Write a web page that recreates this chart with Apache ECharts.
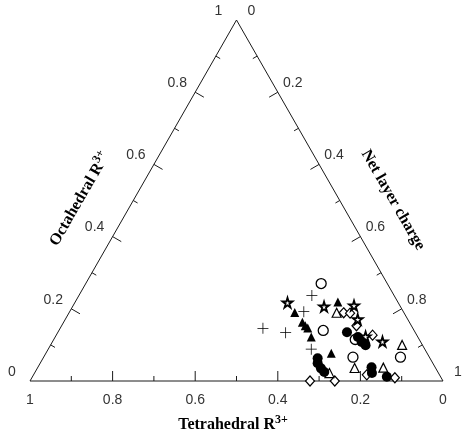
<!DOCTYPE html>
<html>
<head>
<meta charset="utf-8">
<title>Ternary plot</title>
<script src="https://cdn.jsdelivr.net/npm/echarts/dist/echarts.min.js"></script>
<style>
html, body { margin: 0; padding: 0; background: #fff; }
#chart { width: 474px; height: 443px; }
</style>
</head>
<body>
<div id="chart"></div>
<script>
// each sample: tetrahedral R3+ (T) and octahedral R3+ (O); net layer charge = 1 - T - O
var openCircleT = [0.16, 0.22, 0.185, 0.07, 0.155];
var openCircleO = [0.27, 0.14, 0.066, 0.066, 0.115];

var filledCircleT = [0.165, 0.145, 0.143, 0.138, 0.272, 0.279, 0.278, 0.275, 0.154, 0.161, 0.13];
var filledCircleO = [0.135, 0.122, 0.108, 0.099, 0.063, 0.049, 0.035, 0.025, 0.038, 0.022, 0.012];

var filledTriT = [0.145, 0.264, 0.259, 0.257, 0.258, 0.232, 0.254];
var filledTriO = [0.219, 0.190, 0.163, 0.153, 0.122, 0.077, 0.147];

var openTriT = [0.163, 0.049, 0.196, 0.126, 0.264];
var openTriO = [0.189, 0.100, 0.036, 0.037, 0.022];

var diamondT = [0.322, 0.262, 0.146, 0.131, 0.133, 0.107, 0.176, 0.112];
var diamondO = [0.000, 0.000, 0.189, 0.188, 0.153, 0.127, 0.017, 0.009];

var starT = [0.268, 0.185, 0.111, 0.121, 0.126, 0.092];
var starO = [0.217, 0.206, 0.209, 0.171, 0.123, 0.109];

var plusT = [0.199, 0.241, 0.363, 0.314, 0.275];
var plusO = [0.237, 0.192, 0.146, 0.134, 0.088];

// axis ticks and labels (same for all three sides)
var tickValues = [0.1, 0.2, 0.3, 0.4, 0.5, 0.6, 0.7, 0.8, 0.9];
var labelValues = [0, 0.2, 0.4, 0.6, 0.8, 1];
var labelTexts = ['0', '0.2', '0.4', '0.6', '0.8', '1'];

// ternary -> cartesian (x: 0..1 along the base, y: octahedral fraction)
function toXY(t, o) {
  return [1 - t - o / 2, o];
}

function makePoints(tArr, oArr) {
  var out = [];
  for (var i = 0; i < tArr.length; i++) {
    out.push(toXY(tArr[i], oArr[i]));
  }
  return out;
}

var LINE = '#1a1a1a';
var labelFont = '14px "Liberation Sans", Arial, sans-serif';

function renderFrame(params, api) {
  var children = [];
  var bl = api.coord(toXY(1, 0));
  var br = api.coord(toXY(0, 0));
  var top = api.coord(toXY(0, 1));
  children.push({
    type: 'polygon',
    shape: { points: [bl, br, top] },
    style: { fill: 'none', stroke: LINE, lineWidth: 1 }
  });

  var c30 = Math.cos(Math.PI / 6), s30 = 0.5;
  for (var i = 0; i < tickValues.length; i++) {
    var v = tickValues[i];
    var len = (i % 2 === 1) ? 10 : 5;
    // bottom: tetrahedral
    var p = api.coord(toXY(v, 0));
    children.push({ type: 'line', shape: { x1: p[0], y1: p[1], x2: p[0], y2: p[1] - len },
      style: { stroke: LINE, lineWidth: 1 } });
    // left: octahedral
    p = api.coord(toXY(1 - v, v));
    children.push({ type: 'line', shape: { x1: p[0], y1: p[1], x2: p[0] + len * c30, y2: p[1] + len * s30 },
      style: { stroke: LINE, lineWidth: 1 } });
    // right: net layer charge
    p = api.coord(toXY(0, 1 - v));
    children.push({ type: 'line', shape: { x1: p[0], y1: p[1], x2: p[0] - len * c30, y2: p[1] + len * s30 },
      style: { stroke: LINE, lineWidth: 1 } });
  }

  for (var j = 0; j < labelValues.length; j++) {
    var lv = labelValues[j];
    var q = api.coord(toXY(lv, 0));
    children.push({ type: 'text', x: q[0], y: q[1] + 19,
      style: { text: labelTexts[j], font: labelFont, fill: '#333', align: 'center', verticalAlign: 'middle' } });
    q = api.coord(toXY(1 - lv, lv));
    children.push({ type: 'text', x: q[0] - 18, y: q[1] - 9,
      style: { text: labelTexts[j], font: labelFont, fill: '#333', align: 'center', verticalAlign: 'middle' } });
    q = api.coord(toXY(0, 1 - lv));
    children.push({ type: 'text', x: q[0] + 15, y: q[1] - 9,
      style: { text: labelTexts[j], font: labelFont, fill: '#333', align: 'center', verticalAlign: 'middle' } });
  }
  return { type: 'group', children: children };
}

var titleRich = {
  a: { fontFamily: '"Liberation Serif", "Times New Roman", serif', fontWeight: 'bold', fontSize: 16, lineHeight: 22, color: '#111' },
  b: { fontFamily: '"Liberation Serif", "Times New Roman", serif', fontWeight: 'bold', fontSize: 12, verticalAlign: 'top', lineHeight: 22, color: '#111' }
};

var STAR = 'path://M50,0L61,35L98,35L68,57L79,91L50,70L21,91L32,57L2,35L39,35Z';
var PLUS = 'path://M9.3,0H10.7V20H9.3ZM0,9.3H20V10.7H0Z';

function openStyle(w) {
  return { color: '#fff', borderColor: '#000', borderWidth: w, opacity: 1 };
}
var solid = { color: '#000', opacity: 1 };

var chart = echarts.init(document.getElementById('chart'));
var option = {
  animation: false,
  backgroundColor: '#fff',
  grid: { left: 30, top: 20, width: 413, height: 361 },
  xAxis: { type: 'value', min: 0, max: 1, show: false },
  yAxis: { type: 'value', min: 0, max: 1, show: false },
  graphic: [
    { type: 'text', x: 233, y: 425,
      style: { text: '{a|Tetrahedral R}{b|3+}', rich: titleRich, align: 'center', verticalAlign: 'middle' } },
    { type: 'text', x: 80, y: 199, rotation: Math.PI / 3,
      style: { text: '{a|Octahedral R}{b|3+}', rich: titleRich, align: 'center', verticalAlign: 'middle' } },
    { type: 'text', x: 393, y: 200, rotation: -Math.PI / 3,
      style: { text: '{a|Net layer charge}', rich: titleRich, align: 'center', verticalAlign: 'middle' } }
  ],
  series: [
    { type: 'custom', renderItem: renderFrame, data: [[0, 0]], silent: true, clip: false, z: 1 },
    { type: 'scatter', data: makePoints(diamondT, diamondO), symbol: 'diamond', symbolSize: [9, 10],
      itemStyle: openStyle(1.2), z: 3 },
    { type: 'scatter', data: makePoints(openTriT, openTriO), symbol: 'triangle', symbolSize: 9,
      itemStyle: openStyle(1.2), z: 3 },
    { type: 'scatter', data: makePoints(openCircleT, openCircleO), symbol: 'circle', symbolSize: 10,
      itemStyle: openStyle(1.3), z: 3 },
    { type: 'scatter', data: makePoints(starT, starO), symbol: STAR, symbolSize: 10,
      itemStyle: openStyle(1.8), z: 4 },
    { type: 'scatter', data: makePoints(plusT, plusO), symbol: PLUS, symbolSize: 11,
      itemStyle: solid, z: 4 },
    { type: 'scatter', data: makePoints(filledTriT, filledTriO), symbol: 'triangle', symbolSize: 9,
      itemStyle: solid, z: 4 },
    { type: 'scatter', data: makePoints(filledCircleT, filledCircleO), symbol: 'circle', symbolSize: 10,
      itemStyle: solid, z: 5 }
  ]
};
chart.setOption(option);
</script>
</body>
</html>
